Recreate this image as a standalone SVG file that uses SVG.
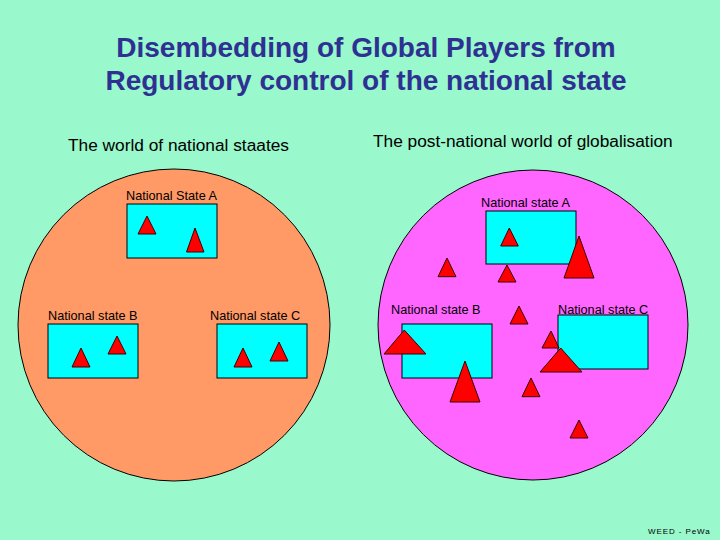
<svg xmlns="http://www.w3.org/2000/svg" width="720" height="540" viewBox="0 0 720 540">
<style>
.title{font-family:"Liberation Sans",Arial,sans-serif;font-weight:bold;font-size:28px;fill:#2E3192;text-anchor:middle}
.sub{font-family:"Liberation Sans",Arial,sans-serif;font-size:17.3px;fill:#000}
.lbl{font-family:"Liberation Sans",Arial,sans-serif;font-size:12.7px;fill:#000}
.box{fill:#00FFFF;stroke:#000;stroke-width:1}
.tri{fill:#FF0000;stroke:#3a0000;stroke-width:1;stroke-linejoin:miter}
</style>
<rect x="0" y="0" width="720" height="540" fill="#99F8CC"/>
<text class="title" x="366" y="57">Disembedding of Global Players from</text>
<text class="title" x="366" y="90">Regulatory control of the national state</text>
<text class="sub" x="68" y="151">The world of national staates</text>
<text class="sub" x="373" y="147">The post-national world of globalisation</text>

<g id="world-national">
<circle cx="174" cy="325" r="156" fill="#FF9966" stroke="#000" stroke-width="1"/>
<g id="left-state-a">
<text class="lbl" x="126" y="200">National State A</text>
<rect class="box" x="127" y="204" width="90" height="54"/>
<polygon class="tri" points="147,216 138,234 156,234"/>
<polygon class="tri" points="195,228 186.5,252 204,252"/>
</g>
<g id="left-state-b">
<text class="lbl" x="48" y="320">National state B</text>
<rect class="box" x="48" y="324" width="90" height="54"/>
<polygon class="tri" points="81,348 72,367 90,367"/>
<polygon class="tri" points="117,336 108,354 126,354"/>
</g>
<g id="left-state-c">
<text class="lbl" x="210" y="320">National state C</text>
<rect class="box" x="217" y="324" width="90" height="54"/>
<polygon class="tri" points="243,348 234,367 252,367"/>
<polygon class="tri" points="279,342 270,361 288,361"/>
</g>
</g>

<g id="world-global">
<circle cx="533" cy="325" r="155" fill="#FF66FF" stroke="#000" stroke-width="1"/>
<g id="right-state-a">
<text class="lbl" x="481" y="207">National state A</text>
<rect class="box" x="486" y="211" width="90" height="53"/>
</g>
<g id="right-state-b">
<text class="lbl" x="391" y="314">National state B</text>
<rect class="box" x="402" y="324" width="90" height="54"/>
</g>
<g id="right-state-c">
<rect class="box" x="558" y="315" width="90" height="54"/>
<text class="lbl" x="558" y="314">National state C</text>
</g>
<g id="global-players">
<polygon class="tri" points="509.3,228 500.7,246 518.3,246"/>
<polygon class="tri" points="579,236 564,278 594,278"/>
<polygon class="tri" points="447,258 438,276.7 456,276.7"/>
<polygon class="tri" points="507,265 498,282 516,282"/>
<polygon class="tri" points="519,306 510,324 528,324"/>
<polygon class="tri" points="404.3,330 384,354 426,354"/>
<polygon class="tri" points="465,361 450,402 480,402"/>
<polygon class="tri" points="551,331 542,348 559,348"/>
<polygon class="tri" points="560.7,348 540,372 582,372"/>
<polygon class="tri" points="531,378 522,396.7 540,396.7"/>
<polygon class="tri" points="579,420 570,438 588,438"/>
</g>
</g>
<text x="648" y="534" font-family="Liberation Sans,Arial,sans-serif" font-size="8" letter-spacing="0.9" fill="#000">WEED - PeWa</text>
</svg>
